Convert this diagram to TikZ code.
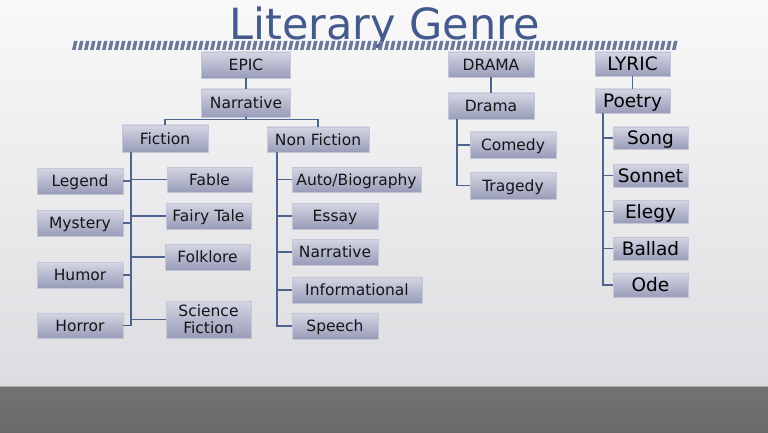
\documentclass[tikz,border=0pt]{standalone}
\usepackage{fontspec}
\setmainfont{DejaVu Sans}
\definecolor{titleblue}{HTML}{44598C}
\definecolor{stripeblue}{HTML}{6B7899}
\definecolor{boxtop}{HTML}{D4D6E3}
\definecolor{boxbot}{HTML}{989CB8}
\definecolor{boxedge}{HTML}{C3C6D6}
\definecolor{boxtext}{HTML}{151518}
\definecolor{linkblue}{HTML}{4F6391}
\definecolor{walltop}{HTML}{F9F9F9}
\definecolor{wallbot}{HTML}{DDDCE0}
\definecolor{floortop}{HTML}{747373}
\definecolor{floorbot}{HTML}{6A6969}

\begin{document}
\begin{tikzpicture}[x=1pt,y=-1pt,
    genre/.style={rectangle,draw=boxedge,line width=0.5pt,top color=boxtop,bottom color=boxbot,
      inner sep=0pt,text=boxtext,align=center,font=\fontsize{15.5}{17}\selectfont,
      minimum width=86pt,minimum height=26pt},
    word/.style={genre,text height=11.3pt,text depth=0pt},
    lyricword/.style={word,text=black,font=\fontsize{18.5}{20}\selectfont,text height=13.5pt,
      minimum width=75pt,minimum height=23pt},
    link/.style={draw=linkblue,line width=1.3pt}]
				\useasboundingbox (0,0) rectangle (768,433);
				\shade[top color=walltop,bottom color=wallbot] (0,0) rectangle (768,386);
				\shade[top color=floortop,bottom color=floorbot] (0,386) rectangle (768,433);
				\draw[color=black!33,line width=1pt] (0,386.5) -- (768,386.5);
				\node[font=\fontsize{43}{46}\selectfont,text=titleblue,anchor=base] (title) at (384.5,40) {Literary Genre};
				\foreach \i in {0,...,100}
					\fill[stripeblue] ({72+6*\i},50) -- ++(3.5,0) -- ++(2,-9) -- ++(-3.5,0) -- cycle;
				\node[word,minimum width=89pt] (epic) at (246,65) {EPIC};
				\node[word,minimum width=89pt,minimum height=28pt] (narr) at (246,103) {Narrative};
				\node[word,minimum height=27pt] (fict) at (165,138.5) {Fiction};
				\node[word,minimum width=102pt,minimum height=25pt] (nonfict) at (318,139.5) {Non Fiction};
				\node[word] (legend) at (80,181) {Legend};
				\node[word] (mystery) at (80,223) {Mystery};
				\node[word] (humor) at (80,275) {Humor};
				\node[word,minimum height=25pt] (horror) at (80,325.5) {Horror};
				\node[word,minimum width=85pt,minimum height=25pt] (fable) at (209.5,179.5) {Fable};
				\node[word,minimum width=85pt] (fairy) at (208.5,216) {Fairy Tale};
				\node[word,minimum width=85pt] (folk) at (207.5,257) {Folklore};
				\node[genre,minimum width=85pt,minimum height=37pt] (scifi) at (208.5,319.5) {Science\\Fiction};
				\node[word,minimum width=129pt,minimum height=25pt] (auto) at (356.5,179.5) {Auto/Biography};
				\node[word] (essay) at (335,216) {Essay};
				\node[word] (narrb) at (335,252) {Narrative};
				\node[word,minimum width=130pt] (info) at (357,290) {Informational};
				\node[word] (speech) at (335,326) {Speech};
				\node[word,minimum height=25pt] (dramatop) at (491,64.5) {DRAMA};
				\node[word] (drama) at (491,106) {Drama};
				\node[word] (comedy) at (513,145) {Comedy};
				\node[word,minimum height=27pt] (tragedy) at (513,185.5) {Tragedy};
				\node[lyricword,minimum height=24pt] (lyric) at (632.5,64) {LYRIC};
				\node[lyricword,minimum height=24pt] (poetry) at (632.5,101) {Poetry};
				\node[lyricword,minimum height=22pt] (song) at (650.5,138) {Song};
				\node[lyricword] (sonnet) at (650.5,175.5) {Sonnet};
				\node[lyricword] (elegy) at (650.5,211.5) {Elegy};
				\node[lyricword] (ballad) at (650.5,248.5) {Ballad};
				\node[lyricword,minimum height=24pt] (ode) at (650.5,285) {Ode};
				\coordinate (fspine) at (131,0);
				\coordinate (nspine) at (277,0);
				\coordinate (dspine) at (457,0);
				\coordinate (pspine) at (603,0);
				\draw[link] (epic.south) -- (narr.north);
				\draw[link] (narr.south) -- ++(0,2.5) -| (fict.north);
				\draw[link] (narr.south) -- ++(0,2.5) -| (nonfict.north);
				\draw[link] (fict.south -| fspine) |- (horror.east);
				\foreach \n in {legend,mystery,humor}
					\draw[link] (\n.east) -- (\n.east -| fspine);
				\foreach \n in {fable,fairy,folk,scifi}
					\draw[link] (\n.west) -- (\n.west -| fspine);
				\draw[link] (nonfict.south -| nspine) |- (speech.west);
				\foreach \n in {auto,essay,narrb,info}
					\draw[link] (\n.west) -- (\n.west -| nspine);
				\draw[link] (dramatop.south) -- (drama.north);
				\draw[link] (drama.south -| dspine) |- (tragedy.west);
				\draw[link] (comedy.west) -- (comedy.west -| dspine);
				\draw[link] (lyric.south) -- (poetry.north);
				\draw[link] (poetry.south -| pspine) |- (ode.west);
				\foreach \n in {song,sonnet,elegy,ballad}
					\draw[link] (\n.west) -- (\n.west -| pspine);
			\end{tikzpicture}
\end{document}
